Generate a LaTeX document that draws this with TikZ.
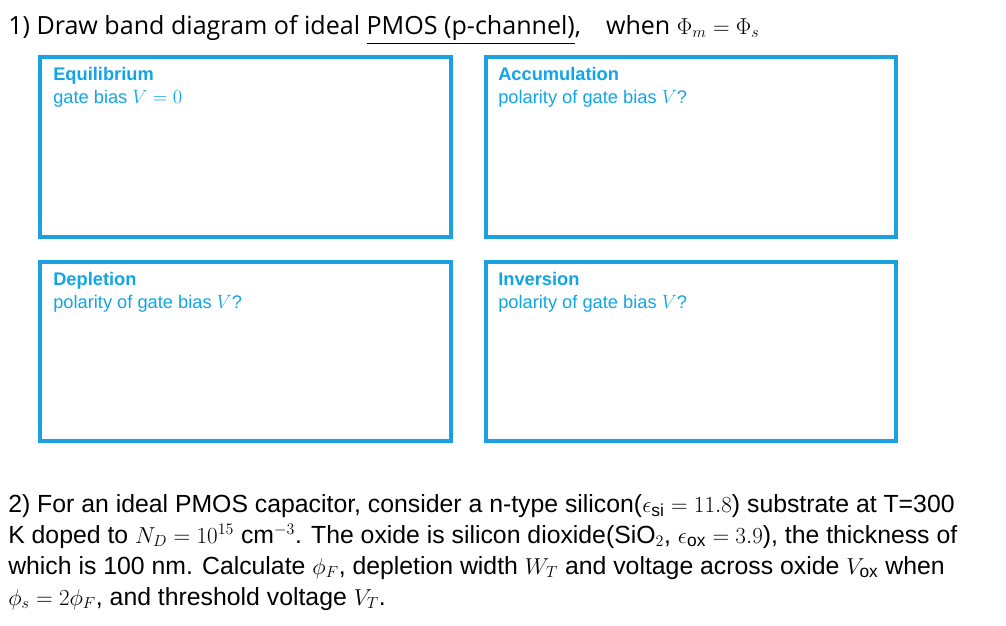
\documentclass[tikz,border=0pt]{standalone}
\usepackage{fontspec}
\setmainfont{Liberation Sans}
\newfontfamily\titlefont{Open Sans}
\usepackage{amsmath}
\definecolor{bx}{HTML}{1BA1E2}
\definecolor{lb}{HTML}{11A5E6}
\begin{document}
\begin{tikzpicture}[x=0.75pt,y=-0.75pt,
  panel/.style={draw=bx,line width=2.6pt},
  lab/.style={anchor=base west,inner sep=0pt,text=lb,font=\fontsize{13.7}{15}\selectfont,align=left},
  body/.style={anchor=base west,inner sep=0pt,font=\fontsize{18.6}{23}\selectfont}]
\useasboundingbox (0,0) rectangle (1006,625);
\node[anchor=base west,inner sep=0pt,font=\titlefont\fontsize{18.8}{21}\selectfont] (title) at (8,34)
 {1) Draw band diagram of ideal \underline{PMOS (p-channel)},\quad when $\Phi_m=\Phi_s$};
\draw[panel] (40,57) rectangle (451,237);
\draw[panel] (486,57) rectangle (896,237);
\draw[panel] (40,262) rectangle (451,441);
\draw[panel] (486,262) rectangle (896,441);
\node[lab] (l1) at (53,80) {\textbf{Equilibrium}};
\node[lab] (l1b) at (53,103) {gate bias $V=0$};
\node[lab] (l2) at (498,80) {\textbf{Accumulation}};
\node[lab] (l2b) at (498,103) {polarity of gate bias $V$?};
\node[lab] (l3) at (53,285) {\textbf{Depletion}};
\node[lab] (l3b) at (53,308) {polarity of gate bias $V$?};
\node[lab] (l4) at (498,285) {\textbf{Inversion}};
\node[lab] (l4b) at (498,308) {polarity of gate bias $V$?};
\node[body] (p1) at (8,512) {2) For an ideal PMOS capacitor, consider a n-type silicon($\epsilon_{\text{si}}=11.8$) substrate at T=300};
\node[body] (p2) at (8,543) {K doped to $N_D=10^{15}\ \text{cm}^{-3}$. The oxide is silicon dioxide(SiO$_2$, $\epsilon_{\text{ox}}=3.9$), the thickness of};
\node[body] (p3) at (8,574) {which is 100 nm. Calculate $\phi_F$, depletion width $W_T$ and voltage across oxide $V_{\text{ox}}$ when};
\node[body] (p4) at (8,605) {$\phi_s=2\phi_F$, and threshold voltage $V_T$.};
\end{tikzpicture}
\end{document}
